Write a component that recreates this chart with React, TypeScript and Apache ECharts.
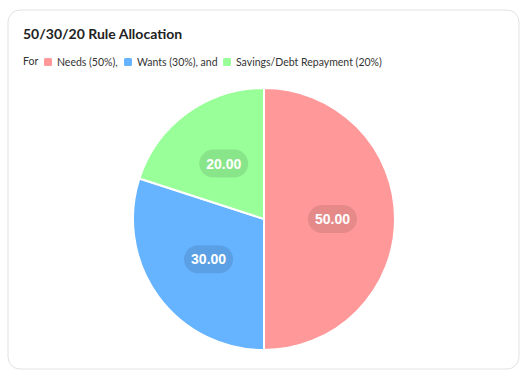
import React, { useEffect, useRef } from "react";
import * as echarts from "echarts";

const categories = ["Needs", "Wants", "Savings/Debt Repayment"];
const values = [50, 30, 20];
const colors = ["#FF9999", "#66B3FF", "#99FF99"];
const legendSuffix = [",", ", and", ""];
const legendLefts = [42, 122, 221];

export default function App() {
  const ref = useRef<HTMLDivElement>(null);
  useEffect(() => {
    if (!ref.current) return;
    const chart = echarts.init(ref.current, undefined, { renderer: "svg" });
    const total = values.reduce((a, b) => a + b, 0);
    const font = "Lato, 'Noto Sans', sans-serif";
    const labelFont = "'Liberation Sans', Arial, sans-serif";
    chart.setOption({
      animation: false,
      textStyle: { fontFamily: font },
      graphic: [
        {
          type: "rect",
          z: -10,
          shape: { x: 8, y: 10, width: 511, height: 359, r: 12 },
          style: { fill: "#ffffff", stroke: "#e2e2e2", lineWidth: 1 },
        },
        {
          type: "text",
          x: 23,
          y: 61,
          style: { text: "For", fontSize: 10.5, fill: "#333", fontFamily: font, verticalAlign: "middle" },
        },
      ],
      title: {
        text: "50/30/20 Rule Allocation",
        left: 18,
        top: 26,
        padding: [0, 5],
        textStyle: { fontSize: 14, fontWeight: "bold", color: "#222", fontFamily: font },
      },
      legend: categories.map((c, i) => ({
        left: legendLefts[i],
        top: 56,
        padding: 0,
        itemWidth: 10,
        itemHeight: 10,
        icon: "roundRect",
        selectedMode: false,
        textStyle: { fontSize: 10.5, color: "#333", fontFamily: font, padding: [0, 0, 0, -1] },
        formatter: (name: string) => {
          const k = categories.indexOf(name);
          return `${name} (${Math.round((values[k] / total) * 100)}%)${legendSuffix[k]}`;
        },
        data: [c],
      })),
      series: [
        {
          type: "pie",
          center: [264, 219],
          radius: 131,
          startAngle: 90,
          clockwise: true,
          itemStyle: { borderColor: "#fff", borderWidth: 2 },
          label: {
            position: "inside",
            formatter: (p: any) => Number(p.value).toFixed(2),
            color: "#fff",
            fontSize: 14,
            fontWeight: "bold",
            fontFamily: labelFont,
            backgroundColor: "rgba(0,0,0,0.1)",
            borderRadius: 14,
            padding: [7, 7],
          },
          labelLine: { show: false },
          emphasis: { disabled: true },
          data: categories.map((c, i) => ({
            name: c,
            value: values[i],
            itemStyle: { color: colors[i] },
          })),
        },
      ],
    });
    return () => chart.dispose();
  }, []);
  return (
    <div
      ref={ref}
      style={{ position: "fixed", left: 0, top: 0, width: 527, height: 379, background: "#fff" }}
    />
  );
}
